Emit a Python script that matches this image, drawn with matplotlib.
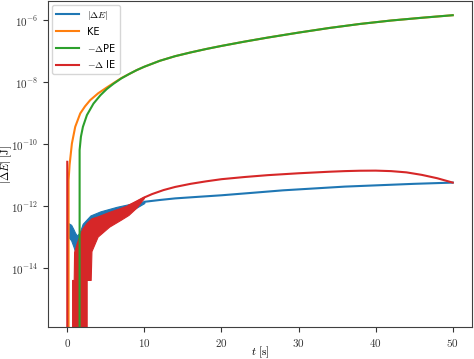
import matplotlib
matplotlib.use("Agg")
import matplotlib.pyplot as plt
from matplotlib.ticker import FixedLocator, FixedFormatter, NullLocator

plt.rcParams['mathtext.fontset'] = 'cm'
plt.rcParams['font.family'] = ['DejaVu Sans']

# ---- data ----
# kinetic energy
ke_t = [0, 0.17, 0.3, 0.6, 1.03, 1.68, 2.3, 2.97, 4.0, 5.13, 6, 7, 8,
        9, 10, 12, 14, 16, 18, 20, 23, 26, 30, 34, 38, 42, 46, 50]
ke_v = [0, 6.9e-12, 2.14e-11, 1.05e-10, 3.63e-10, 9.8e-10, 1.66e-9, 2.63e-9, 4.37e-9,
        6.76e-9, 9.33e-9, 1.35e-8, 1.82e-8,
        2.45e-8, 3.16e-8, 4.90e-8, 6.92e-8, 9.12e-8, 1.175e-7, 1.48e-7, 2.04e-7,
        2.75e-7, 3.98e-7, 5.62e-7, 7.59e-7, 9.77e-7, 1.20e-6, 1.45e-6]
# -delta potential energy
pe_t = [1.58, 1.6, 1.77, 2.03, 2.55, 3.4, 4.3, 5.13, 6, 7, 8,
        9, 10, 12, 14, 16, 18, 20, 23, 26, 30, 34, 38, 42, 46, 50]
pe_v = [0, 6.46e-11, 1.74e-10, 3.63e-10, 8.71e-10, 2.04e-9, 3.80e-9, 6.03e-9, 8.91e-9,
        1.32e-8, 1.82e-8,
        2.45e-8, 3.16e-8, 4.90e-8, 6.92e-8, 9.12e-8, 1.175e-7, 1.48e-7, 2.04e-7,
        2.75e-7, 3.98e-7, 5.62e-7, 7.59e-7, 9.77e-7, 1.20e-6, 1.45e-6]
# |delta E|: noisy early band, then smooth line
de_band_t = [0.17, 0.5, 0.8, 1.0, 1.25, 1.6, 2.0, 3.0, 4.3, 6.4, 8.6, 10.0]
de_band_lo = [1.0e-13, 7.9e-14, 5.0e-14, 3.5e-14, 2.2e-14, 6.3e-14, 1.26e-13, 2.5e-13,
              3.2e-13, 5.0e-13, 7.9e-13, 1.26e-12]
de_band_hi = [2.8e-13, 2.5e-13, 1.8e-13, 1.4e-13, 1.12e-13, 1.4e-13, 2.7e-13, 5.0e-13,
              6.8e-13, 9.5e-13, 1.25e-12, 1.41e-12]
de_t = [10, 12, 14, 17, 20, 24, 28, 32, 36, 40, 45, 50]
de_v = [1.38e-12, 1.58e-12, 1.78e-12, 2.0e-12, 2.24e-12, 2.69e-12, 3.24e-12, 3.72e-12,
        4.27e-12, 4.68e-12, 5.25e-12, 5.75e-12]
# -delta internal energy: spike at t=0, noisy band, then smooth line
ie_spike_t = [0, 0.03]
ie_spike_v = [2.7e-11, 0]
ie_band_t = [0.69, 0.9, 0.95, 1.3, 1.6, 2.0, 2.53, 2.58, 3.1, 3.2, 4.0, 5.5, 7.0, 8.0, 9.0, 10.0]
ie_band_lo = [0, 0, 0, 0, 0, 0, 0, 4.0e-15, 4.0e-15, 3.4e-14, 1.0e-13, 2.1e-13, 3.5e-13,
              5.0e-13, 8.5e-13, 1.75e-12]
ie_band_hi = [4.0e-15, 4.0e-15, 3.2e-14, 6.3e-14, 1.0e-13, 1.8e-13, 2.7e-13, 2.8e-13, 3.7e-13,
              3.9e-13, 4.5e-13, 6.3e-13, 8.5e-13, 1.05e-12, 1.42e-12, 1.95e-12]
ie_t = [8, 9, 10, 11, 12.5, 14, 16, 18, 20, 23, 26, 30, 34, 36, 38, 40, 42, 44, 46, 48, 50]
ie_v = [1.05e-12, 1.41e-12, 1.91e-12, 2.45e-12, 3.31e-12, 4.17e-12, 5.25e-12, 6.31e-12,
        7.41e-12, 8.71e-12, 1.0e-11, 1.15e-11, 1.29e-11, 1.35e-11, 1.39e-11, 1.40e-11,
        1.35e-11, 1.23e-11, 1.02e-11, 7.94e-12, 5.75e-12]

labels = [r'$|\Delta E|$', 'KE', r'$-\Delta$PE', r'$-\Delta$ IE']
x_ticks = [0, 10, 20, 30, 40, 50]
y_ticks = [1e-14, 1e-12, 1e-10, 1e-8, 1e-6]
y_ticklabels = [r'$10^{-14}$', r'$10^{-12}$', r'$10^{-10}$', r'$10^{-8}$', r'$10^{-6}$']

C_BLUE, C_ORANGE, C_GREEN, C_RED = '#1f77b4', '#ff7f0e', '#2ca02c', '#d62728'

fig = plt.figure(figsize=(4.74, 3.59), dpi=100)
ax = fig.add_axes([48/474, 32/359, (472-48)/474, 326/359])
ax.set_yscale('log')

lw = 1.5
ax.fill_between(de_band_t, de_band_lo, de_band_hi, color=C_BLUE, lw=0.8)
ax.plot(de_t, de_v, color=C_BLUE, lw=lw, label=labels[0])
ax.plot(ke_t, ke_v, color=C_ORANGE, lw=lw, label=labels[1])
ax.plot(pe_t, pe_v, color=C_GREEN, lw=lw, label=labels[2])
ax.plot(ie_spike_t, ie_spike_v, color=C_RED, lw=lw, label=labels[3])
ax.fill_between(ie_band_t, ie_band_lo, ie_band_hi, color=C_RED, lw=0.8)
ax.plot(ie_t, ie_v, color=C_RED, lw=lw)

ax.set_xlim(-2.5, 52.5)
ax.set_ylim(10**-15.9, 10**-5.38)

ax.xaxis.set_major_locator(FixedLocator(x_ticks))
ax.xaxis.set_major_formatter(FixedFormatter([r'$%d$' % v for v in x_ticks]))
ax.yaxis.set_major_locator(FixedLocator(y_ticks))
ax.yaxis.set_major_formatter(FixedFormatter(y_ticklabels))
ax.yaxis.set_minor_locator(NullLocator())
ax.tick_params(labelsize=8, colors='0.2', length=3.5, width=0.8)
for sp in ax.spines.values():
    sp.set_color('0.25')

ax.set_xlabel(r'$t\ [\mathrm{s}]$', fontsize=8)
ax.set_ylabel(r'$|\Delta E|\ [\mathrm{J}]$', fontsize=8)
ax.xaxis.set_label_coords(0.5, -0.055)
ax.yaxis.set_label_coords(-0.08, 0.5)

ax.legend(loc='upper left', fontsize=7, handlelength=2.4, borderaxespad=0.4)

fig.savefig('out.png', dpi=100)
